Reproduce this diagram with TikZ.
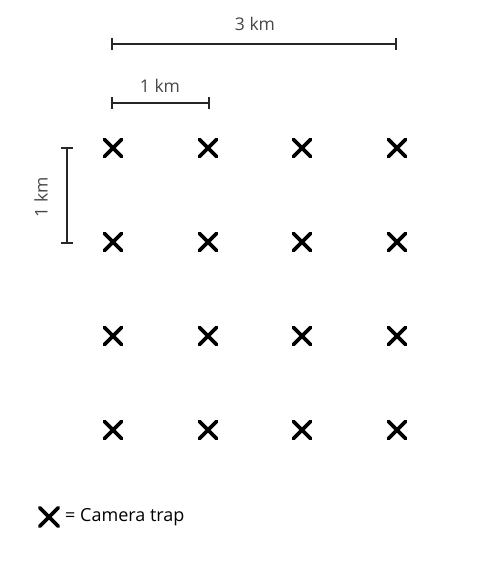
\documentclass[tikz,border=0pt]{standalone}
\usepackage{fontspec}
\setmainfont{Open Sans}
\usetikzlibrary{shapes.misc}
\begin{document}
\begin{tikzpicture}[x=1pt,y=-1pt,
  trap/.style={cross out,draw=black,line width=3.6pt,minimum size=13.5pt,inner sep=0pt,line cap=round},
  bar/.style={line width=1.8pt,draw=black!85},
  lbl/.style={text=black!72,font=\fontsize{17.5}{20}\selectfont,inner sep=0pt}]
\useasboundingbox[fill=white] (0,0) rectangle (478,573);
% traps
\foreach \c/\x in {1/113,2/208,3/302,4/397}{
  \foreach \r/\y in {1/148,2/242,3/336,4/430}{
    \node[trap] (t\r\c) at (\x,\y) {};
  }
}
% 3 km bar
\coordinate (a1) at (112,44);
\coordinate (a2) at (396,44);
\draw[bar] (a1) -- (a2);
\draw[bar] ([yshift=-6]a1) -- ([yshift=6]a1);
\draw[bar] ([yshift=-6]a2) -- ([yshift=6]a2);
\node[lbl] (l3) at (255,24) {3 km};
% 1 km bar
\coordinate (b1) at (112,103);
\coordinate (b2) at (209,103);
\draw[bar] (b1) -- (b2);
\draw[bar] ([yshift=-6]b1) -- ([yshift=6]b1);
\draw[bar] ([yshift=-6]b2) -- ([yshift=6]b2);
\node[lbl] (l1) at (160,86) {1 km};
% vertical bar
\coordinate (c1) at (67,148);
\coordinate (c2) at (67,243);
\draw[bar] (c1) -- (c2);
\draw[bar] ([xshift=-6]c1) -- ([xshift=6]c1);
\draw[bar] ([xshift=-6]c2) -- ([xshift=6]c2);
\node[lbl,rotate=90] (lv) at (41,197) {1 km};
% legend
\node[trap,minimum size=15pt] (leg) at (49,517) {};
\node[anchor=west,inner sep=0pt,font=\fontsize{18}{21}\selectfont] (legt) at (65,517) {= Camera trap};
\end{tikzpicture}
\end{document}
